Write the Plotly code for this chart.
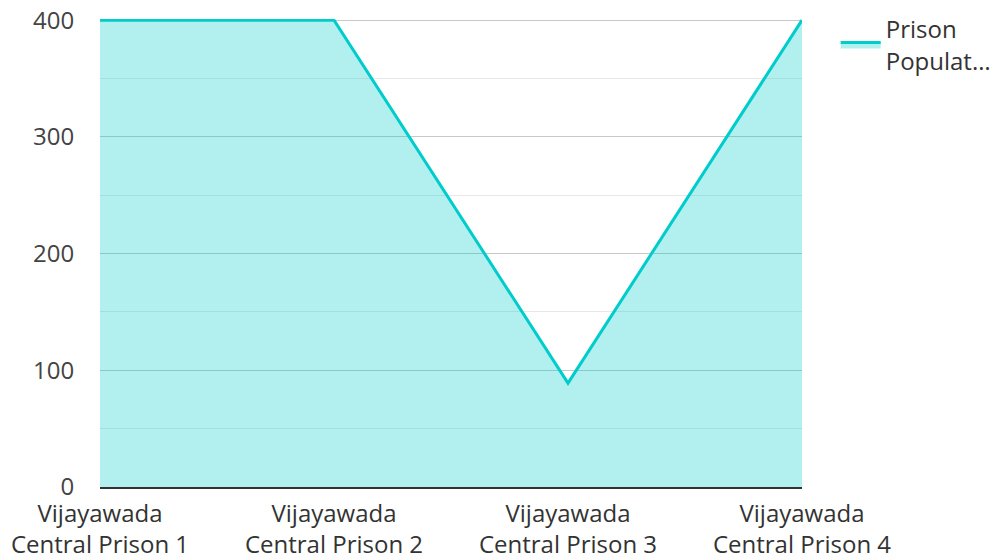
import plotly.graph_objects as go

categories = ["Vijayawada<br>Central Prison 1", "Vijayawada<br>Central Prison 2",
              "Vijayawada<br>Central Prison 3", "Vijayawada<br>Central Prison 4"]
population = [400, 400, 89, 400]
series_name = "Prison<br>Populat…"
y_ticks = [0, 100, 200, 300, 400]

fig = go.Figure()
fig.add_trace(go.Scatter(
    x=categories, y=population, name=series_name, mode="lines",
    line=dict(color="#00CCCC", width=3),
    fill="tozeroy", fillcolor="rgba(0,204,204,0.3)",
    showlegend=True,
))

fig.update_layout(
    width=999, height=560,
    margin=dict(l=92, r=205, t=11, b=81, autoexpand=False),
    paper_bgcolor="rgba(0,0,0,0)", plot_bgcolor="white",
    font=dict(family="Open Sans", size=24, color="#444"),
    showlegend=True,
    legend=dict(x=1.048, y=1.026, xanchor="left", yanchor="top",
                font=dict(size=24, color="#333"), itemwidth=40),
    xaxis=dict(range=[0, 3], showgrid=False, showline=True, linecolor="#333",
               linewidth=2, ticks="outside", ticklen=4, tickcolor="rgba(0,0,0,0)",
               tickfont=dict(size=24, color="#333"), automargin=False),
    yaxis=dict(range=[0, 401], tickvals=y_ticks, showgrid=True, gridcolor="#c8c8c8",
               gridwidth=1, zeroline=False, ticks="outside", ticklen=20,
               tickcolor="rgba(0,0,0,0)", tickfont=dict(size=24, color="#444"),
               automargin=False, ticklabeloverflow="allow",
               minor=dict(dtick=50, showgrid=True, gridcolor="#e8e8e8", gridwidth=1)),
)

fig.write_html("out.html")
